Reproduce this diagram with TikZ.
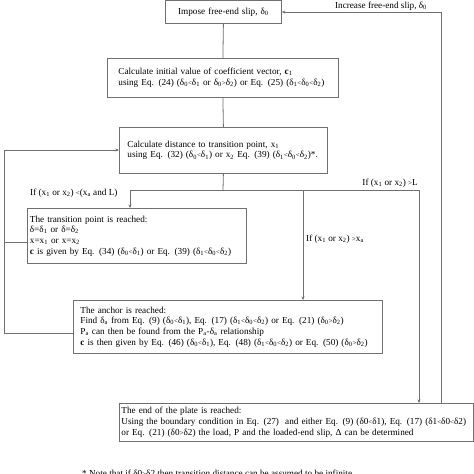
\documentclass[tikz,border=0pt]{standalone}
\usepackage{fontspec}
\setmainfont{Liberation Serif}
\usetikzlibrary{arrows.meta}
\definecolor{ln}{HTML}{707070}
\newcommand{\dl}[1]{δ\textsubscript{#1}}
\newcommand{\sx}[1]{x\textsubscript{#1}}
\newcommand{\lt}{{\fontsize{7}{7}\selectfont<}}
\newcommand{\gt}{{\fontsize{7}{7}\selectfont>}}
\begin{document}
\begin{tikzpicture}[x=1pt,y=-1pt,
  box/.style={draw=ln,line width=0.8pt,anchor=north west,align=left,
    font=\fontsize{9.2}{10.7}\selectfont,inner ysep=0pt},
  lbl/.style={font=\fontsize{9.2}{10.7}\selectfont,inner sep=0pt},
  conn/.style={draw=ln,line width=0.8pt},
  arr/.style={conn,-{Stealth[length=3.5pt,width=3pt]}}]
\useasboundingbox (0,0) rectangle (474,474);
\fill[white] (0,0) rectangle (474,474);
% boxes
\node[box,minimum width=116pt,minimum height=23pt,inner xsep=0pt,align=center,text width=116pt] (b1) at (165,0) {Impose free-end slip, \dl{0}};
\node[box,minimum width=231pt,minimum height=39pt,inner xsep=11pt,text width=209pt] (b2) at (107,58)
  {\mbox{Calculate initial value of coefficient vector, \textbf{c}\textsubscript{1}}\\
   \mbox{using Eq. (24) (\dl{0}\lt\dl{1} or \dl{0}\gt\dl{2}) or Eq. (25) (\dl{1}\lt\dl{0}\lt\dl{2})}};
\node[box,minimum width=208pt,minimum height=46pt,inner xsep=8pt,text width=192pt] (b3) at (119,127)
  {\mbox{Calculate distance to transition point, \sx{1}}\\
   \mbox{using Eq. (32) (\dl{0}\lt\dl{1}) or \sx{2} Eq. (39) (\dl{1}\lt\dl{0}\lt\dl{2})*.}};
\node[box,minimum width=219pt,minimum height=55pt,inner xsep=2.5pt,text width=214pt] (tr) at (27,208)
  {\mbox{The transition point is reached:}\\
   \mbox{δ=\dl{1} or δ=\dl{2}}\\
   \mbox{x=\sx{1} or x=\sx{2}}\\
   \mbox{\textbf{c} is given by Eq. (34) (\dl{0}\lt\dl{1}) or Eq. (39) (\dl{1}\lt\dl{0}\lt\dl{2})}};
\node[box,minimum width=309pt,minimum height=53pt,inner xsep=7pt,text width=295pt] (an) at (73,300)
  {\mbox{The anchor is reached:}\\
   \mbox{Find δ\textsubscript{a} from Eq. (9) (\dl{0}\lt\dl{1}), Eq. (17) (\dl{1}\lt\dl{0}\lt\dl{2}) or Eq. (21) (\dl{0}\gt\dl{2})}\\
   \mbox{P\textsubscript{a} can then be found from the P\textsubscript{a}-δ\textsubscript{a} relationship}\\
   \mbox{\textbf{c} is then given by Eq. (46) (\dl{0}\lt\dl{1}), Eq. (48) (\dl{1}\lt\dl{0}\lt\dl{2}) or Eq. (50) (\dl{0}\gt\dl{2})}};
\node[box,minimum width=354pt,minimum height=38pt,inner xsep=2pt,text width=350pt] (en) at (119,403)
  {\mbox{The end of the plate is reached:}\\
   \mbox{Using the boundary condition in Eq. (27)\ \ and either Eq. (9) (δ0\lt δ1), Eq. (17) (δ1\lt δ0\lt δ2)}\\
   \mbox{or Eq. (21) (δ0\gt δ2) the load, P and the loaded-end slip, Δ can be determined}};
% labels
\node[lbl] (linc) at (381,6) {Increase free-end slip, \dl{0}};
\node[lbl,anchor=west] (l1) at (30,193) {If (\sx{1} or \sx{2}) \lt(x\textsubscript{a} and L)};
\node[lbl,anchor=east] (l2) at (418,183) {If (\sx{1} or \sx{2}) \gt L};
\node[lbl,anchor=west] (l3) at (306,239) {If (\sx{1} or \sx{2}) \gt x\textsubscript{a}};
\node[lbl,anchor=base west] (fn) at (82,476) {* Note that if δ0\gt δ2 then transition distance can be assumed to be infinite};
% coordinates
\coordinate (j) at (223,190);
\coordinate (jl) at (130,190);
\coordinate (jm) at (303,190);
\coordinate (jr) at (419,190);
\coordinate (lt) at (4,150);
\coordinate (lm) at (4,242);
\coordinate (lb) at (4,333);
\coordinate (rt) at (441,12);
% connectors
\draw[conn] (b1.south) -- (b2.north);
\draw[conn] (b2.south) -- (b3.north);
\draw[conn] (b3.south) -- (j);
\draw[conn] (jl) -- (jr);
\draw[arr] (jl) -- (jl |- tr.north);
\draw[arr] (jm) -- (jm |- an.north);
\draw[arr] (jr) -- (jr |- en.north);
\draw[conn] (lm -| tr.west) -- (lm);
\draw[arr] (lb -| an.west) -- (lb) -- (lt) -- (lt -| b3.west);
\draw[arr] (rt |- en.north) -- (rt) -- (rt -| b1.east);
\end{tikzpicture}
\end{document}
